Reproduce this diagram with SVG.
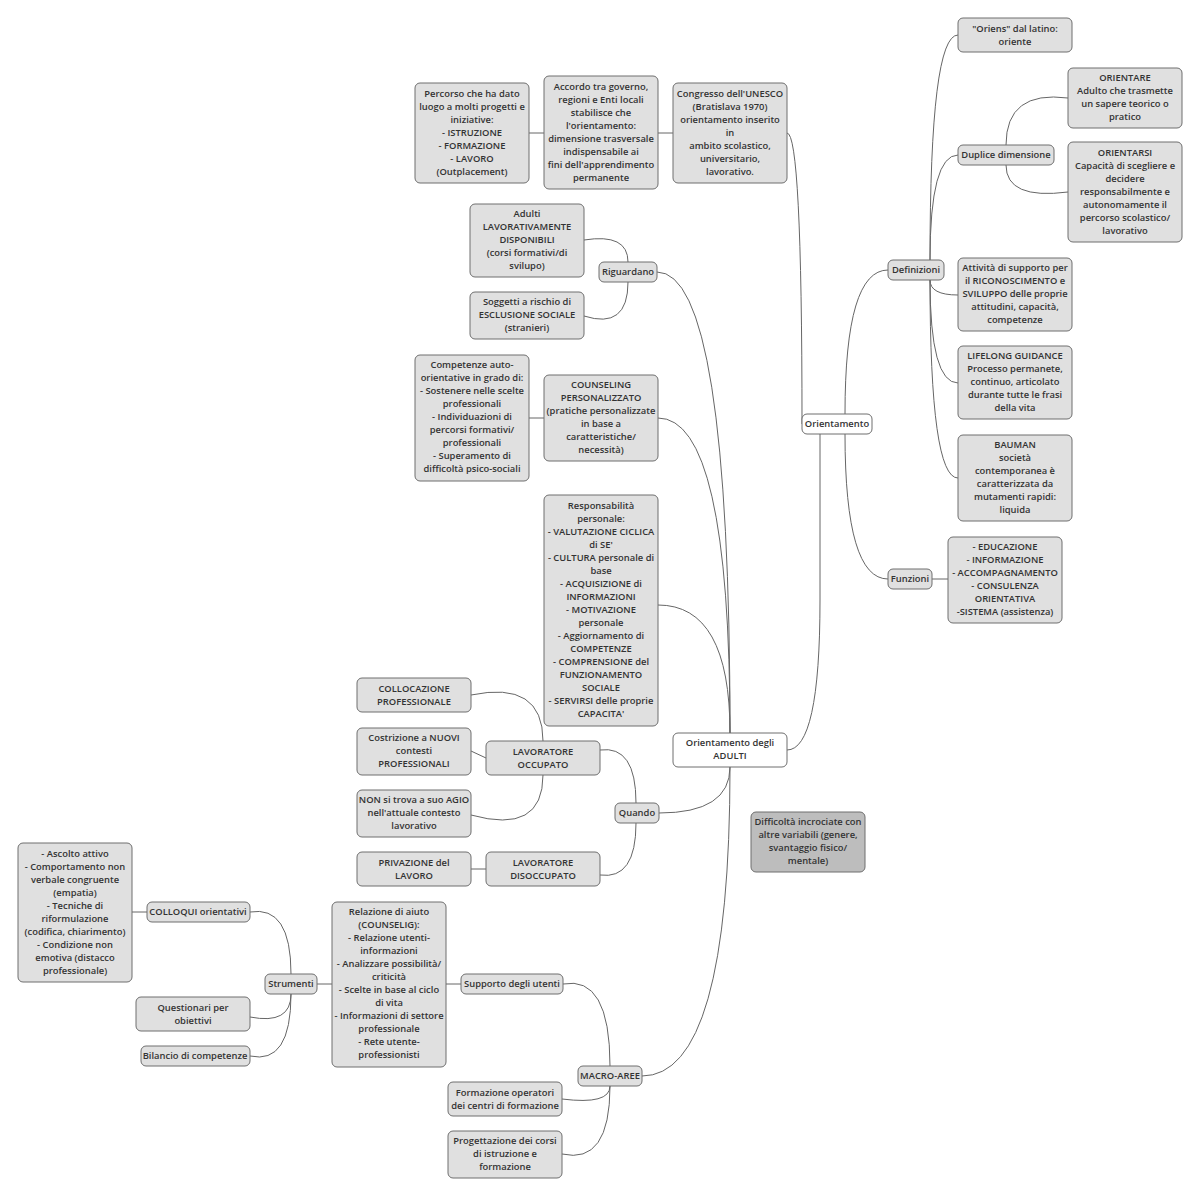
<svg xmlns="http://www.w3.org/2000/svg" width="1200" height="1197" viewBox="0 0 1200 1197">
<style>
.n rect{fill:#e0e0e0;stroke:#6e6e6e;stroke-width:1}
.w rect{fill:#ffffff}
.g rect{fill:#bdbdbd}
text{font-family:"Open Sans","Noto Sans",sans-serif;font-weight:600;font-size:9.4px;fill:#333;text-anchor:middle}
#edges path{fill:none;stroke:#666;stroke-width:1}
</style>
<rect width="1200" height="1197" fill="#fff"/>
<g id="edges">
<path d="M730 733 Q730 272 657 272"/>
<path d="M730 733 Q730 418 658 418"/>
<path d="M730 733 Q730 605 658 605"/>
<path d="M787 750 Q820 750 820 600 L820 424 Q820 424 802 424"/>
<path d="M802 424 Q802 133 787 133"/>
<path d="M730 767 Q730 813 659 813"/>
<path d="M730 767 Q730 1076 642 1076"/>
<path d="M845 414 Q845 270 888 270"/>
<path d="M845 434 Q845 579 888 579"/>
<path d="M930 260 Q930 35 958 35"/>
<path d="M930 260 Q930 155 958 155"/>
<path d="M930 280 Q930 295 958 295"/>
<path d="M930 280 Q930 383 958 383"/>
<path d="M930 280 Q930 478 958 478"/>
<path d="M1006 145 Q1006 90 1068 98"/>
<path d="M1006 165 Q1006 200 1068 192"/>
<path d="M932 579 L948 579"/>
<path d="M673 133 L658 133"/>
<path d="M544 133 L529 133"/>
<path d="M628 262 Q628 233 584 240"/>
<path d="M628 282 Q628 330 584 316"/>
<path d="M544 418 L529 418"/>
<path d="M636 803 Q636 745 600 750"/>
<path d="M636 823 Q636 880 600 875"/>
<path d="M543 741 Q543 680 471 695"/>
<path d="M486 758 L471 751"/>
<path d="M543 775 Q543 835 471 815"/>
<path d="M486 869 L471 869"/>
<path d="M610 1066 Q610 975 563 984"/>
<path d="M610 1086 Q610 1105 562 1099"/>
<path d="M610 1086 Q610 1165 562 1154"/>
<path d="M461 984 L446 984"/>
<path d="M317 984 L332 984"/>
<path d="M291 974 Q291 905 250 912"/>
<path d="M291 994 Q291 1025 250 1017"/>
<path d="M291 994 Q291 1065 250 1056"/>
<path d="M147 912 L132 912"/>
</g>
<g id="n1" class="n"><rect x="958" y="18" width="114" height="34" rx="5"/><text x="1015" y="32">"Oriens" dal latino:</text><text x="1015" y="45">oriente</text></g>
<g id="n2" class="n"><rect x="1068" y="68" width="114" height="60" rx="5"/><text x="1125" y="81">ORIENTARE</text><text x="1125" y="94">Adulto che trasmette</text><text x="1125" y="107">un sapere teorico o</text><text x="1125" y="120">pratico</text></g>
<g id="n3" class="n"><rect x="958" y="145" width="96" height="20" rx="5"/><text x="1006" y="158">Duplice dimensione</text></g>
<g id="n4" class="n"><rect x="1068" y="142" width="114" height="100" rx="5"/><text x="1125" y="156">ORIENTARSI</text><text x="1125" y="169">Capacità di scegliere e</text><text x="1125" y="182">decidere</text><text x="1125" y="195">responsabilmente e</text><text x="1125" y="208">autonomamente il</text><text x="1125" y="221">percorso scolastico/</text><text x="1125" y="234">lavorativo</text></g>
<g id="n5" class="n"><rect x="888" y="260" width="56" height="20" rx="5"/><text x="916" y="273">Definizioni</text></g>
<g id="n6" class="n"><rect x="958" y="258" width="114" height="73" rx="5"/><text x="1015" y="271">Attività di supporto per</text><text x="1015" y="284">il RICONOSCIMENTO e</text><text x="1015" y="297">SVILUPPO delle proprie</text><text x="1015" y="310">attitudini, capacità,</text><text x="1015" y="323">competenze</text></g>
<g id="n7" class="n"><rect x="958" y="346" width="114" height="73" rx="5"/><text x="1015" y="359">LIFELONG GUIDANCE</text><text x="1015" y="372">Processo permanete,</text><text x="1015" y="385">continuo, articolato</text><text x="1015" y="398">durante tutte le frasi</text><text x="1015" y="411">della vita</text></g>
<g id="n8" class="n"><rect x="958" y="435" width="114" height="86" rx="5"/><text x="1015" y="448">BAUMAN</text><text x="1015" y="461">società</text><text x="1015" y="474">contemporanea è</text><text x="1015" y="487">caratterizzata da</text><text x="1015" y="500">mutamenti rapidi:</text><text x="1015" y="513">liquida</text></g>
<g id="n9" class="n w"><rect x="802" y="414" width="70" height="20" rx="5"/><text x="837" y="427">Orientamento</text></g>
<g id="n10" class="n"><rect x="888" y="569" width="44" height="20" rx="5"/><text x="910" y="582">Funzioni</text></g>
<g id="n11" class="n"><rect x="948" y="537" width="114" height="86" rx="5"/><text x="1005" y="550">- EDUCAZIONE</text><text x="1005" y="563">- INFORMAZIONE</text><text x="1005" y="576">- ACCOMPAGNAMENTO</text><text x="1005" y="589">- CONSULENZA</text><text x="1005" y="602">ORIENTATIVA</text><text x="1005" y="615">-SISTEMA (assistenza)</text></g>
<g id="n12" class="n"><rect x="673" y="83" width="114" height="100" rx="5"/><text x="730" y="97">Congresso dell'UNESCO</text><text x="730" y="110">(Bratislava 1970)</text><text x="730" y="123">orientamento inserito</text><text x="730" y="136">in</text><text x="730" y="149">ambito scolastico,</text><text x="730" y="162">universitario,</text><text x="730" y="175">lavorativo.</text></g>
<g id="n13" class="n"><rect x="544" y="76" width="114" height="113" rx="5"/><text x="601" y="90">Accordo tra governo,</text><text x="601" y="103">regioni e Enti locali</text><text x="601" y="116">stabilisce che</text><text x="601" y="129">l'orientamento:</text><text x="601" y="142">dimensione trasversale</text><text x="601" y="155">indispensabile ai</text><text x="601" y="168">fini dell'apprendimento</text><text x="601" y="181">permanente</text></g>
<g id="n14" class="n"><rect x="415" y="83" width="114" height="100" rx="5"/><text x="472" y="97">Percorso che ha dato</text><text x="472" y="110">luogo a molti progetti e</text><text x="472" y="123">iniziative:</text><text x="472" y="136">- ISTRUZIONE</text><text x="472" y="149">- FORMAZIONE</text><text x="472" y="162">- LAVORO</text><text x="472" y="175">(Outplacement)</text></g>
<g id="n15" class="n"><rect x="470" y="204" width="114" height="73" rx="5"/><text x="527" y="217">Adulti</text><text x="527" y="230">LAVORATIVAMENTE</text><text x="527" y="243">DISPONIBILI</text><text x="527" y="256">(corsi formativi/di</text><text x="527" y="269">svilupo)</text></g>
<g id="n16" class="n"><rect x="599" y="262" width="58" height="20" rx="5"/><text x="628" y="275">Riguardano</text></g>
<g id="n17" class="n"><rect x="470" y="292" width="114" height="47" rx="5"/><text x="527" y="305">Soggetti a rischio di</text><text x="527" y="318">ESCLUSIONE SOCIALE</text><text x="527" y="331">(stranieri)</text></g>
<g id="n18" class="n"><rect x="415" y="355" width="114" height="126" rx="5"/><text x="472" y="368">Competenze auto-</text><text x="472" y="381">orientative in grado di:</text><text x="472" y="394">- Sostenere nelle scelte</text><text x="472" y="407">professionali</text><text x="472" y="420">- Individuazioni di</text><text x="472" y="433">percorsi formativi/</text><text x="472" y="446">professionali</text><text x="472" y="459">- Superamento di</text><text x="472" y="472">difficoltà psico-sociali</text></g>
<g id="n19" class="n"><rect x="544" y="375" width="114" height="86" rx="5"/><text x="601" y="388">COUNSELING</text><text x="601" y="401">PERSONALIZZATO</text><text x="601" y="414">(pratiche personalizzate</text><text x="601" y="427">in base a</text><text x="601" y="440">caratteristiche/</text><text x="601" y="453">necessità)</text></g>
<g id="n20" class="n"><rect x="544" y="495" width="114" height="231" rx="5"/><text x="601" y="509">Responsabilità</text><text x="601" y="522">personale:</text><text x="601" y="535">- VALUTAZIONE CICLICA</text><text x="601" y="548">di SE'</text><text x="601" y="561">- CULTURA personale di</text><text x="601" y="574">base</text><text x="601" y="587">- ACQUISIZIONE di</text><text x="601" y="600">INFORMAZIONI</text><text x="601" y="613">- MOTIVAZIONE</text><text x="601" y="626">personale</text><text x="601" y="639">- Aggiornamento di</text><text x="601" y="652">COMPETENZE</text><text x="601" y="665">- COMPRENSIONE del</text><text x="601" y="678">FUNZIONAMENTO</text><text x="601" y="691">SOCIALE</text><text x="601" y="704">- SERVIRSI delle proprie</text><text x="601" y="717">CAPACITA'</text></g>
<g id="n21" class="n w"><rect x="673" y="733" width="114" height="34" rx="5"/><text x="730" y="746">Orientamento degli</text><text x="730" y="759">ADULTI</text></g>
<g id="n22" class="n g"><rect x="751" y="812" width="114" height="60" rx="5"/><text x="808" y="825">Difficoltà incrociate con</text><text x="808" y="838">altre variabili (genere,</text><text x="808" y="851">svantaggio fisico/</text><text x="808" y="864">mentale)</text></g>
<g id="n23" class="n"><rect x="357" y="678" width="114" height="34" rx="5"/><text x="414" y="692">COLLOCAZIONE</text><text x="414" y="705">PROFESSIONALE</text></g>
<g id="n24" class="n"><rect x="486" y="741" width="114" height="34" rx="5"/><text x="543" y="755">LAVORATORE</text><text x="543" y="768">OCCUPATO</text></g>
<g id="n25" class="n"><rect x="357" y="728" width="114" height="47" rx="5"/><text x="414" y="741">Costrizione a NUOVI</text><text x="414" y="754">contesti</text><text x="414" y="767">PROFESSIONALI</text></g>
<g id="n26" class="n"><rect x="357" y="790" width="114" height="47" rx="5"/><text x="414" y="803">NON si trova a suo AGIO</text><text x="414" y="816">nell'attuale contesto</text><text x="414" y="829">lavorativo</text></g>
<g id="n27" class="n"><rect x="615" y="803" width="44" height="20" rx="5"/><text x="637" y="816">Quando</text></g>
<g id="n28" class="n"><rect x="357" y="852" width="114" height="34" rx="5"/><text x="414" y="866">PRIVAZIONE del</text><text x="414" y="879">LAVORO</text></g>
<g id="n29" class="n"><rect x="486" y="852" width="114" height="34" rx="5"/><text x="543" y="866">LAVORATORE</text><text x="543" y="879">DISOCCUPATO</text></g>
<g id="n30" class="n"><rect x="18" y="843" width="114" height="139" rx="5"/><text x="75" y="857">- Ascolto attivo</text><text x="75" y="870">- Comportamento non</text><text x="75" y="883">verbale congruente</text><text x="75" y="896">(empatia)</text><text x="75" y="909">- Tecniche di</text><text x="75" y="922">riformulazione</text><text x="75" y="935">(codifica, chiarimento)</text><text x="75" y="948">- Condizione non</text><text x="75" y="961">emotiva (distacco</text><text x="75" y="974">professionale)</text></g>
<g id="n31" class="n"><rect x="147" y="902" width="103" height="20" rx="5"/><text x="198" y="915">COLLOQUI orientativi</text></g>
<g id="n32" class="n"><rect x="265" y="974" width="52" height="20" rx="5"/><text x="291" y="987">Strumenti</text></g>
<g id="n33" class="n"><rect x="332" y="902" width="114" height="165" rx="5"/><text x="389" y="915">Relazione di aiuto</text><text x="389" y="928">(COUNSELIG):</text><text x="389" y="941">- Relazione utenti-</text><text x="389" y="954">informazioni</text><text x="389" y="967">- Analizzare possibilità/</text><text x="389" y="980">criticità</text><text x="389" y="993">- Scelte in base al ciclo</text><text x="389" y="1006">di vita</text><text x="389" y="1019">- Informazioni di settore</text><text x="389" y="1032">professionale</text><text x="389" y="1045">- Rete utente-</text><text x="389" y="1058">professionisti</text></g>
<g id="n34" class="n"><rect x="461" y="974" width="102" height="20" rx="5"/><text x="512" y="987">Supporto degli utenti</text></g>
<g id="n35" class="n"><rect x="136" y="997" width="114" height="34" rx="5"/><text x="193" y="1011">Questionari per</text><text x="193" y="1024">obiettivi</text></g>
<g id="n36" class="n"><rect x="141" y="1046" width="109" height="20" rx="5"/><text x="195" y="1059">Bilancio di competenze</text></g>
<g id="n37" class="n"><rect x="578" y="1066" width="64" height="20" rx="5"/><text x="610" y="1079">MACRO-AREE</text></g>
<g id="n38" class="n"><rect x="448" y="1082" width="114" height="34" rx="5"/><text x="505" y="1096">Formazione operatori</text><text x="505" y="1109">dei centri di formazione</text></g>
<g id="n39" class="n"><rect x="448" y="1131" width="114" height="47" rx="5"/><text x="505" y="1144">Progettazione dei corsi</text><text x="505" y="1157">di istruzione e</text><text x="505" y="1170">formazione</text></g>
</svg>
